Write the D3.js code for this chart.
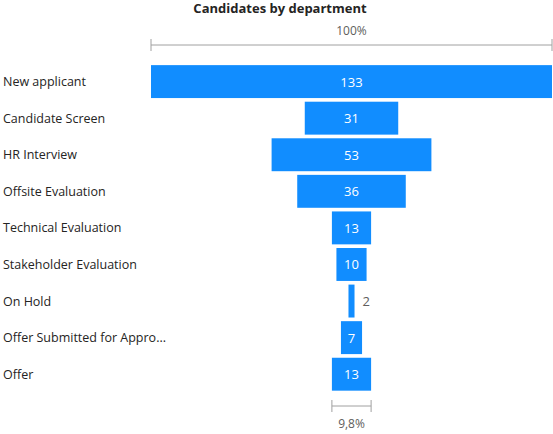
<!DOCTYPE html>
<html><head><meta charset="utf-8">
<script src="https://cdn.jsdelivr.net/npm/d3@7"></script>
<style>body{margin:0;background:#fff}text{font-family:"Segoe UI","Open Sans",sans-serif}</style>
</head><body><svg id="c" width="553" height="434"></svg>
<script>
const categories=["New applicant","Candidate Screen","HR Interview","Offsite Evaluation","Technical Evaluation","Stakeholder Evaluation","On Hold","Offer Submitted for Appro...","Offer"];
const values=[133,31,53,36,13,10,2,7,13];
const topLabel="100%", bottomLabel="9,8%";
const svg=d3.select("#c");
const cx=351.5;
const x=d3.scaleLinear().domain([0,d3.max(values)]).range([0,401]);
const y=d3.scaleBand().domain(categories).range([63.3,392.5]).paddingInner(0.1).paddingOuter(0.05);
svg.append("text").attr("x",280).attr("y",13).attr("text-anchor","middle").attr("font-size",13).attr("font-weight","bold").attr("fill","#252423").text("Candidates by department");
function bracket(w,yy,label,ly){
  const g=svg.append("g").attr("stroke","#a0a0a0").attr("fill","none");
  g.append("line").attr("x1",cx-w/2).attr("x2",cx+w/2).attr("y1",yy).attr("y2",yy);
  g.append("line").attr("x1",cx-w/2).attr("x2",cx-w/2).attr("y1",yy-6).attr("y2",yy+6);
  g.append("line").attr("x1",cx+w/2).attr("x2",cx+w/2).attr("y1",yy-6).attr("y2",yy+6);
  svg.append("text").attr("x",cx).attr("y",ly).attr("text-anchor","middle").attr("font-size",12).attr("fill","#605e5c").text(label);
}
bracket(x(values[0]),45,topLabel,35);
bracket(x(values[values.length-1]),406,bottomLabel,428);
categories.forEach((c,i)=>{
  const w=x(values[i]), yy=y(c), h=y.bandwidth();
  svg.append("rect").attr("x",cx-w/2).attr("y",yy).attr("width",w).attr("height",h).attr("fill","#118DFF");
  svg.append("text").attr("x",3).attr("y",yy+h/2+4.5).attr("font-size",12.5).attr("fill","#252423").text(c);
  const inside=w>20;
  svg.append("text").attr("x",inside?cx:cx+w/2+8).attr("y",yy+h/2+5).attr("text-anchor",inside?"middle":"start")
    .attr("font-size",13).attr("fill",inside?"#fff":"#605e5c").text(values[i]);
});
</script></body></html>
